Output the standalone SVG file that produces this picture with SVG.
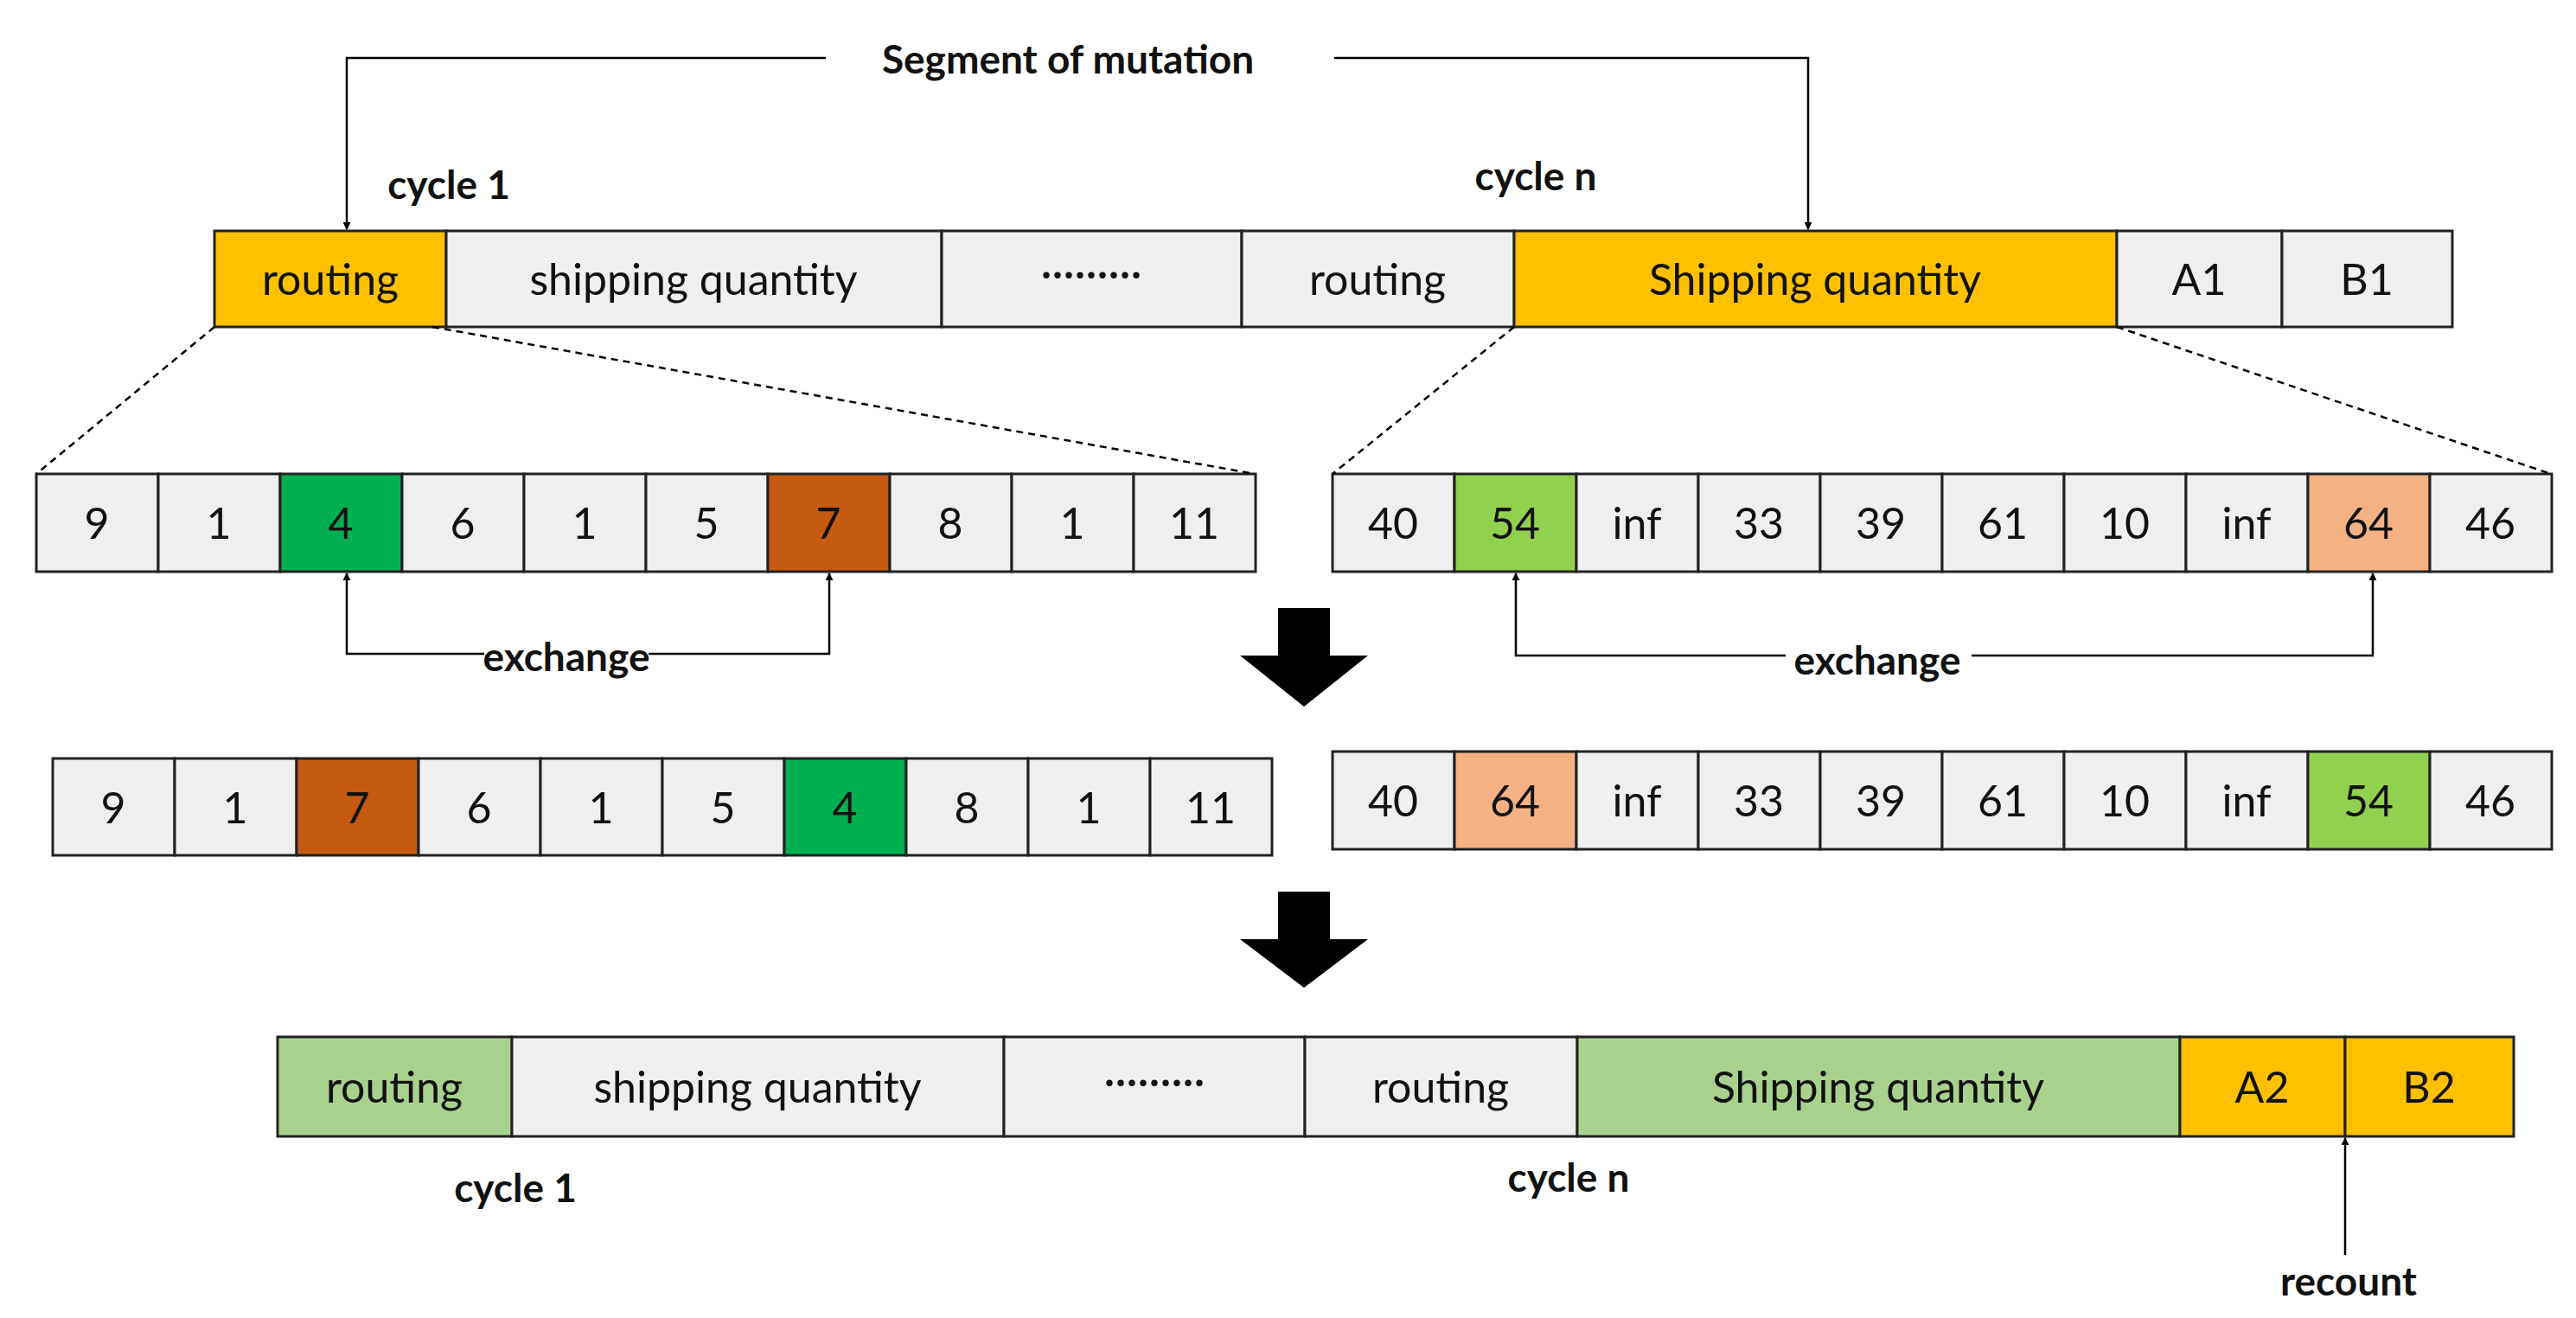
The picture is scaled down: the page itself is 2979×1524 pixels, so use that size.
<svg xmlns="http://www.w3.org/2000/svg" width="2979" height="1524" viewBox="0 0 2979 1524">
<defs>
<marker id="ah" viewBox="0 0 10 10" refX="9" refY="5" markerWidth="9" markerHeight="9" markerUnits="userSpaceOnUse" orient="auto"><path d="M0,0 L10,5 L0,10 z" fill="#000"/></marker>
<marker id="ah2" viewBox="0 0 10 10" refX="9" refY="5" markerWidth="24" markerHeight="24" markerUnits="userSpaceOnUse" orient="auto"><path d="M0,1 L10,5 L0,9 z" fill="#000"/></marker>
</defs>
<style>
rect{stroke:#222;stroke-width:3}
.g{fill:#efefef}.o{fill:#ffc000}.dg{fill:#00b050}.br{fill:#c55a11}.lg{fill:#92d050}.sa{fill:#f4b183}.pg{fill:#a9d18e}
text{font-family:Lato,"Liberation Sans",sans-serif;fill:#111;text-anchor:middle;dominant-baseline:central}
.c{font-size:50px}.l{font-size:46px;font-weight:bold}
.cn line,.cn polyline{stroke:#000;stroke-width:2.5;fill:none}
.d{stroke-dasharray:8 6}
</style>
<rect width="2979" height="1524" fill="#fff" style="stroke:none"/>
<g id="top-bar">
<rect class="o" x="248" y="267" width="268" height="111"/><text class="c" x="382" y="322">routing</text>
<rect class="g" x="516" y="267" width="573" height="111"/><text class="c" x="802" y="322">shipping quantity</text>
<rect class="g" x="1089" y="267" width="347" height="111"/><text class="c" x="1262" y="314">·········</text>
<rect class="g" x="1436" y="267" width="315" height="111"/><text class="c" x="1593" y="322">routing</text>
<rect class="o" x="1751" y="267" width="697" height="111"/><text class="c" x="2099" y="322">Shipping quantity</text>
<rect class="g" x="2448" y="267" width="191" height="111"/><text class="c" x="2543" y="322">A1</text>
<rect class="g" x="2639" y="267" width="197" height="111"/><text class="c" x="2737" y="322">B1</text>
</g>
<g id="labels">
<text class="l" x="1235" y="67">Segment of mutation</text>
<text class="l" x="519" y="212">cycle 1</text>
<text class="l" x="1776" y="202">cycle n</text>
<text class="l" x="655" y="758">exchange</text>
<text class="l" x="2171" y="762">exchange</text>
<text class="l" x="596" y="1372">cycle 1</text>
<text class="l" x="1814" y="1360">cycle n</text>
<text class="l" x="2716" y="1480">recount</text>
</g>
<g id="row-left-1">
<rect class="g" x="42" y="548" width="141" height="113"/><text class="c" x="112" y="604">9</text>
<rect class="g" x="183" y="548" width="141" height="113"/><text class="c" x="253" y="604">1</text>
<rect class="dg" x="324" y="548" width="141" height="113"/><text class="c" x="394" y="604">4</text>
<rect class="g" x="465" y="548" width="141" height="113"/><text class="c" x="535" y="604">6</text>
<rect class="g" x="606" y="548" width="141" height="113"/><text class="c" x="676" y="604">1</text>
<rect class="g" x="747" y="548" width="141" height="113"/><text class="c" x="817" y="604">5</text>
<rect class="br" x="888" y="548" width="141" height="113"/><text class="c" x="958" y="604">7</text>
<rect class="g" x="1029" y="548" width="141" height="113"/><text class="c" x="1099" y="604">8</text>
<rect class="g" x="1170" y="548" width="141" height="113"/><text class="c" x="1240" y="604">1</text>
<rect class="g" x="1311" y="548" width="141" height="113"/><text class="c" x="1381" y="604">11</text>
</g>
<g id="row-right-1">
<rect class="g" x="1541" y="548" width="141" height="113"/><text class="c" x="1611" y="604">40</text>
<rect class="lg" x="1682" y="548" width="141" height="113"/><text class="c" x="1752" y="604">54</text>
<rect class="g" x="1823" y="548" width="141" height="113"/><text class="c" x="1893" y="604">inf</text>
<rect class="g" x="1964" y="548" width="141" height="113"/><text class="c" x="2034" y="604">33</text>
<rect class="g" x="2105" y="548" width="141" height="113"/><text class="c" x="2175" y="604">39</text>
<rect class="g" x="2246" y="548" width="141" height="113"/><text class="c" x="2316" y="604">61</text>
<rect class="g" x="2387" y="548" width="141" height="113"/><text class="c" x="2457" y="604">10</text>
<rect class="g" x="2528" y="548" width="141" height="113"/><text class="c" x="2598" y="604">inf</text>
<rect class="sa" x="2669" y="548" width="141" height="113"/><text class="c" x="2739" y="604">64</text>
<rect class="g" x="2810" y="548" width="141" height="113"/><text class="c" x="2880" y="604">46</text>
</g>
<g id="row-left-2">
<rect class="g" x="61" y="877" width="141" height="112"/><text class="c" x="131" y="933">9</text>
<rect class="g" x="202" y="877" width="141" height="112"/><text class="c" x="272" y="933">1</text>
<rect class="br" x="343" y="877" width="141" height="112"/><text class="c" x="413" y="933">7</text>
<rect class="g" x="484" y="877" width="141" height="112"/><text class="c" x="554" y="933">6</text>
<rect class="g" x="625" y="877" width="141" height="112"/><text class="c" x="695" y="933">1</text>
<rect class="g" x="766" y="877" width="141" height="112"/><text class="c" x="836" y="933">5</text>
<rect class="dg" x="907" y="877" width="141" height="112"/><text class="c" x="977" y="933">4</text>
<rect class="g" x="1048" y="877" width="141" height="112"/><text class="c" x="1118" y="933">8</text>
<rect class="g" x="1189" y="877" width="141" height="112"/><text class="c" x="1259" y="933">1</text>
<rect class="g" x="1330" y="877" width="141" height="112"/><text class="c" x="1400" y="933">11</text>
</g>
<g id="row-right-2">
<rect class="g" x="1541" y="869" width="141" height="113"/><text class="c" x="1611" y="925">40</text>
<rect class="sa" x="1682" y="869" width="141" height="113"/><text class="c" x="1752" y="925">64</text>
<rect class="g" x="1823" y="869" width="141" height="113"/><text class="c" x="1893" y="925">inf</text>
<rect class="g" x="1964" y="869" width="141" height="113"/><text class="c" x="2034" y="925">33</text>
<rect class="g" x="2105" y="869" width="141" height="113"/><text class="c" x="2175" y="925">39</text>
<rect class="g" x="2246" y="869" width="141" height="113"/><text class="c" x="2316" y="925">61</text>
<rect class="g" x="2387" y="869" width="141" height="113"/><text class="c" x="2457" y="925">10</text>
<rect class="g" x="2528" y="869" width="141" height="113"/><text class="c" x="2598" y="925">inf</text>
<rect class="lg" x="2669" y="869" width="141" height="113"/><text class="c" x="2739" y="925">54</text>
<rect class="g" x="2810" y="869" width="141" height="113"/><text class="c" x="2880" y="925">46</text>
</g>
<g id="bottom-bar">
<rect class="pg" x="321" y="1199" width="271" height="115"/><text class="c" x="456" y="1256">routing</text>
<rect class="g" x="592" y="1199" width="569" height="115"/><text class="c" x="876" y="1256">shipping quantity</text>
<rect class="g" x="1161" y="1199" width="348" height="115"/><text class="c" x="1335" y="1248">·········</text>
<rect class="g" x="1509" y="1199" width="315" height="115"/><text class="c" x="1666" y="1256">routing</text>
<rect class="pg" x="1824" y="1199" width="697" height="115"/><text class="c" x="2172" y="1256">Shipping quantity</text>
<rect class="o" x="2521" y="1199" width="191" height="115"/><text class="c" x="2616" y="1256">A2</text>
<rect class="o" x="2712" y="1199" width="195" height="115"/><text class="c" x="2809" y="1256">B2</text>
</g>
<g id="connectors" class="cn">
<polyline points="955,67 401,67 401,265" marker-end="url(#ah)"/>
<polyline points="1543,67 2091,67 2091,265" marker-end="url(#ah)"/>
<line class="d" x1="248" y1="378" x2="42" y2="548"/>
<line class="d" x1="500" y1="378" x2="1451" y2="548"/>
<line class="d" x1="1751" y1="378" x2="1541" y2="548"/>
<line class="d" x1="2448" y1="378" x2="2950" y2="548"/>
<polyline points="560,756 401,756 401,663" marker-end="url(#ah)"/>
<polyline points="750,756 959,756 959,663" marker-end="url(#ah)"/>
<polyline points="2065,758 1753,758 1753,663" marker-end="url(#ah)"/>
<polyline points="2280,758 2744,758 2744,663" marker-end="url(#ah)"/>
<line x1="2712" y1="1451" x2="2712" y2="1316" marker-end="url(#ah)"/>
<path d="M1478,703 L1538,703 L1538,758 L1582,758 L1508,817 L1434,758 L1478,758 z" fill="#000"/>
<path d="M1478,1031 L1538,1031 L1538,1086 L1582,1086 L1508,1142 L1434,1086 L1478,1086 z" fill="#000"/>
</g>
</svg>
